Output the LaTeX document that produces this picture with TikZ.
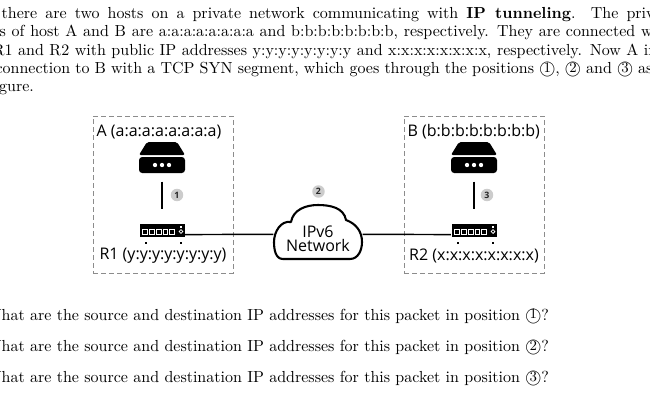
\documentclass[tikz,border=0pt]{standalone}
\usepackage{fontspec}
\usetikzlibrary{positioning}
\newfontfamily\diagfont{Open Sans}
\newcommand{\circnum}[1]{\ooalign{\hfil\raisebox{.2ex}{\small #1}\hfil\crcr$\bigcirc$}}

\begin{document}
\begin{tikzpicture}[x=0.625pt, y=0.625pt, thick,
    para/.style = {inner sep=0pt, anchor=base west},
    privnet/.style = {draw=black!45, dash pattern=on 3pt off 2pt, line width=0.6pt, minimum width=87.5pt, minimum height=98.1pt},
    lab/.style = {inner sep=0pt, font=\diagfont\fontsize{10}{8.75}\selectfont},
    badge/.style = {circle, fill=black!20, inner sep=0pt, minimum size=7.8pt, font=\diagfont\bfseries\fontsize{5.5}{6}\selectfont, text=black!85},
    link/.style = {line width=0.9pt},
    uplink/.style = {line width=1.3pt, shorten <=5pt, shorten >=8.8pt},
    host/.pic = {
        \fill[rounded corners=1.2pt] (-23,2.5) -- (-15,15.5) -- (15,15.5) -- (23,2.5) -- cycle;
        \fill[rounded corners=2pt] (-23,0.5) rectangle (23,-15.5);
        \foreach \dx in {-7,0,7} \fill[white] (\dx,-7.5) circle (1.35pt);
        \node[inner sep=0pt, minimum width=28.75pt, minimum height=19.4pt] (-box) {};
    },
    router/.pic = {
        \fill (-22.5,-6.5) rectangle (22.5,6.5);
        \foreach \dx in {-17,-10.2,-3.4,3.4,10.2} \draw[white, line width=0.5pt] ({\dx-2.4},-4.2) rectangle ({\dx+2.4},1);
        \draw[white, line width=0.5pt] (19,-1) circle (1.2pt);
        \fill[white] (18,2.6) rectangle (20,4.6);
        \fill (-17.5,-13.5) rectangle (-15.5,-11.5);
        \fill (17.5,-13.5) rectangle (19.5,-11.5);
        \node[inner sep=0pt, minimum width=28.1pt, minimum height=8.1pt] (-box) {};
    }]
    \useasboundingbox (0,0) rectangle (650,400);
    \fill[white] (0,0) rectangle (650,400);
    \clip (0,0) rectangle (650,400);

    % question text
    \node[para] (l1) at (1,381.5) {\makebox[408.1pt][s]{there are two hosts on a private network communicating with \textbf{IP tunneling}. The priv}};
    \node[para] (l2) at (-1,363.2) {\makebox[408.1pt][s]{s of host A and B are a:a:a:a:a:a:a:a and b:b:b:b:b:b:b:b, respectively. They are connected w}};
    \node[para] (l3) at (-7.8,344.9) {\makebox[415.3pt][s]{R1 and R2 with public IP addresses y:y:y:y:y:y:y:y and x:x:x:x:x:x:x:x, respectively. Now A in}};
    \node[para] (l4) at (-5.1,326.6) {\makebox[410.6pt][s]{connection to B with a TCP SYN segment, which goes through the positions \circnum{1}, \circnum{2} and \circnum{3} as}};
    \node[para] (l5) at (-1.5,308.3) {gure.};

    % private networks
    \node[privnet] (netA) at (163,205.5) {};
    \node[privnet] (netB) at (474,205.5) {};
    \node[lab, anchor=west] (labA) at (96,268) {A (a:a:a:a:a:a:a:a)};
    \node[lab, anchor=west] (labB) at (407,268) {B (b:b:b:b:b:b:b:b)};

    \pic (hostA) at (162,242.5) {host};
    \pic (hostB) at (474,242.5) {host};
    \pic (R1) at (162,169.5) {router};
    \pic (R2) at (474,169.5) {router};
    \node[lab] (labR1) at (163,144) {R1 (y:y:y:y:y:y:y:y)};
    \node[lab] (labR2) at (474,144) {R2 (x:x:x:x:x:x:x:x)};

    % IPv6 cloud
    \node[lab, align=center, minimum width=55pt, minimum height=29pt] (cloud) at (318,161) {IPv6\\Network};
    \begin{scope}[shift={(cloud.center)}]
        \draw[line width=1.3pt, line join=round] (-35,-20) -- (32,-20) to[out=0,in=-90] (44,-3) to[out=90,in=-20] (28,19) to[out=100,in=0] (0,34) to[out=180,in=80] (-27,17) to[out=170,in=90] (-44,-3) to[out=-90,in=180] (-35,-20) -- cycle;
    \end{scope}

    \draw[uplink] (hostA-box) -- (R1-box);
    \draw[uplink] (hostB-box) -- (R2-box);
    \draw[link] (R1-box.-10) -- (cloud.174);
    \draw[link] (cloud.6) -- (R2-box.190);

    \node[badge] (b1) at (177,205) {1};
    \node[badge] (b2) at (318.5,208.5) {2};
    \node[badge] (b3) at (487,205) {3};

    % questions
    \node[para] (q1) at (-15.4,80) {What are the source and destination IP addresses for this packet in position \circnum{1}?};
    \node[para] (q2) at (-15.4,48.3) {What are the source and destination IP addresses for this packet in position \circnum{2}?};
    \node[para] (q3) at (-15.4,17.3) {What are the source and destination IP addresses for this packet in position \circnum{3}?};
\end{tikzpicture}
\end{document}
